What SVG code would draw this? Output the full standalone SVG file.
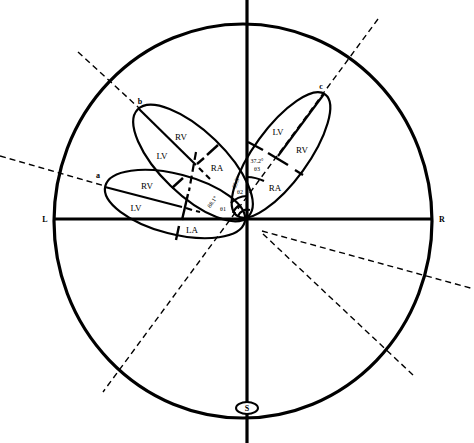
<svg xmlns="http://www.w3.org/2000/svg" width="474" height="443" viewBox="0 0 474 443">
<style>
.thick{stroke:#000;stroke-width:3.2;fill:none}
.ell{stroke:#000;stroke-width:2.2;fill:none}
.ax{stroke:#000;stroke-width:2.2;fill:none}
.div{stroke:#000;stroke-width:2.4;fill:none}
.dash{stroke:#000;stroke-width:1.4;fill:none;stroke-dasharray:6 4}
.tdash{stroke:#000;stroke-width:2.2;fill:none;stroke-dasharray:8 4}
text{font-family:"Liberation Serif","Times New Roman",serif;fill:#000}
.lbl{font-size:9px;text-anchor:middle}
.sm{font-size:8px;text-anchor:middle;font-weight:bold}
.ang{font-size:6px;text-anchor:middle}
</style>
<rect width="474" height="443" fill="#fff"/>
<g id="frame">
<ellipse class="thick" cx="243" cy="221" rx="189" ry="197"/>
<line class="thick" x1="54" y1="219" x2="432" y2="219"/>
<line class="thick" x1="247" y1="0" x2="247" y2="443" stroke-width="3.6"/>
<text class="sm" x="45" y="222">L</text>
<text class="sm" x="442" y="222">R</text>
</g>
<g id="S">
<ellipse cx="247" cy="408" rx="11" ry="6" fill="#fff" stroke="#000" stroke-width="2"/>
<text class="sm" x="247" y="411">S</text>
</g>
<g id="connectors">
<line class="dash" x1="0" y1="156" x2="105" y2="186"/>
<line class="dash" x1="262" y1="231" x2="474" y2="289"/>
<line class="dash" x1="78" y1="52" x2="139" y2="108"/>
<line class="dash" x1="263" y1="234" x2="413" y2="375"/>
<line class="dash" x1="378" y1="19" x2="103" y2="392"/>
</g>
<g id="ellipse-a">
<ellipse class="ell" cx="175" cy="204" rx="72" ry="30" transform="rotate(14.5 175 204)"/>
<line class="ax" x1="105" y1="187" x2="182" y2="207"/>
<line class="ax" x1="186" y1="208" x2="192" y2="210"/>
<line class="ax" x1="196" y1="211" x2="200" y2="212"/>
<line class="tdash" x1="196" y1="152" x2="189" y2="191"/>
<line class="div" x1="188" y1="194" x2="182" y2="220"/>
<line class="div" x1="179" y1="226" x2="176" y2="240"/>
<text class="sm" x="98" y="178">a</text>
<text class="lbl" x="147" y="189">RV</text>
<text class="lbl" x="136" y="211">LV</text>
<text class="lbl" x="192" y="233">LA</text>
</g>
<g id="ellipse-b">
<ellipse class="ell" cx="193" cy="163" rx="77" ry="32" transform="rotate(44 193 163)"/>
<line class="ax" x1="139" y1="109" x2="196" y2="165"/>
<line class="ax" x1="199" y1="168" x2="203" y2="172"/>
<line class="ax" x1="206" y1="175" x2="210" y2="179"/>
<line class="div" x1="218" y1="145" x2="207" y2="155"/>
<line class="div" x1="204" y1="158" x2="197" y2="164"/>
<line class="div" x1="183" y1="178" x2="172" y2="188"/>
<text class="sm" x="140" y="104">b</text>
<text class="lbl" x="181" y="140">RV</text>
<text class="lbl" x="162" y="159">LV</text>
<text class="lbl" x="217" y="171">RA</text>
</g>
<g id="ellipse-c">
<ellipse class="ell" cx="281" cy="155" rx="75" ry="27" transform="rotate(-54 281 155)"/>
<line class="ax" x1="324" y1="94" x2="278" y2="156"/>
<line class="div" x1="248" y1="142" x2="263" y2="150"/>
<line class="div" x1="268" y1="153" x2="288" y2="165"/>
<line class="div" x1="295" y1="170" x2="303" y2="175"/>
<text class="sm" x="321" y="89">c</text>
<text class="lbl" x="278" y="135">LV</text>
<text class="lbl" x="302" y="153">RV</text>
<text class="lbl" x="275" y="191">RA</text>
</g>
<g id="angles">
<path class="ax" d="M247,177 A42,42 0 0 1 264,181"/>
<path class="ax" d="M231,203 A23,23 0 0 1 247,196" stroke-width="1.6"/>
<path class="ax" d="M233,213 A15,15 0 0 1 240,205" stroke-width="1.6"/>
<path class="ax" d="M238,216 A10,10 0 0 1 250,210" stroke-width="1.6"/>
<text class="ang" x="257" y="163">37.2°</text>
<text class="ang" x="257" y="171">θ3</text>
<text class="ang" transform="translate(238,183) rotate(-70)">65.5°</text>
<text class="ang" x="240" y="194">θ2</text>
<text class="ang" transform="translate(214,203) rotate(-55)">88.1°</text>
<text class="ang" x="223" y="211">θ1</text>
</g>
</svg>
